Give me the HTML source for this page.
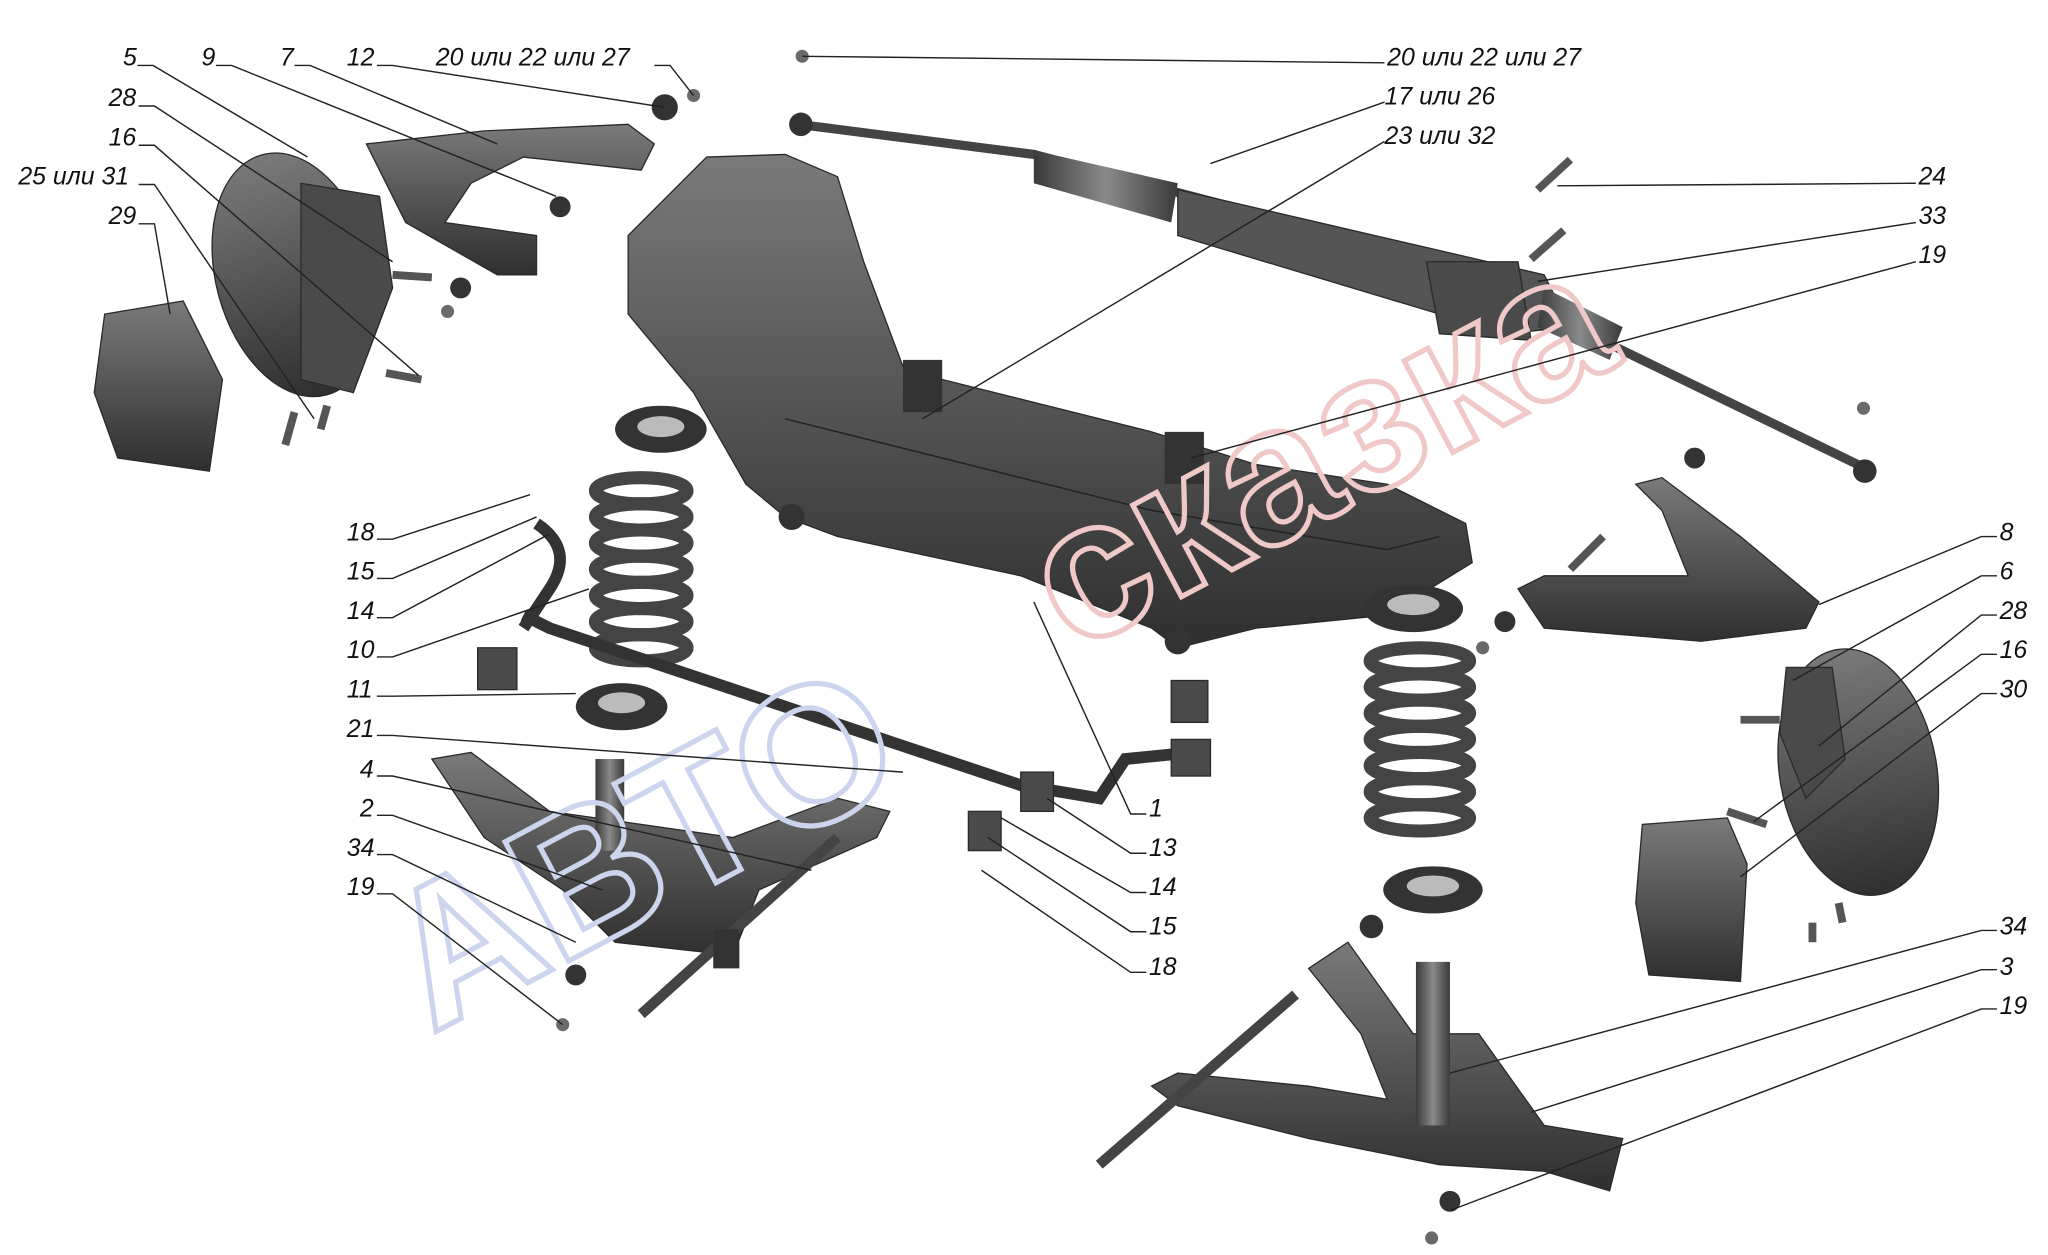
<!DOCTYPE html>
<html><head><meta charset="utf-8"><style>
html,body{margin:0;padding:0;background:#fff;}
svg{display:block;}
text{font-family:"Liberation Sans",sans-serif;font-style:italic;font-size:19px;fill:#111;}
.l{stroke:#222;stroke-width:1.1;fill:none;}
.p{fill:#4a4a4a;stroke:#2a2a2a;stroke-width:1;}
.d{fill:#333;}
.m{fill:#6a6a6a;}
.w{fill:none;stroke:#cfd6ee;stroke-width:6;}
</style></head><body>
<svg width="2048" height="1255" viewBox="0 0 1565 959" xmlns="http://www.w3.org/2000/svg">
<defs>
<linearGradient id="g" x1="0" y1="0" x2="0" y2="1"><stop offset="0" stop-color="#7a7a7a"/><stop offset="1" stop-color="#2f2f2f"/></linearGradient>
<linearGradient id="g2" x1="0" y1="0" x2="1" y2="0"><stop offset="0" stop-color="#3a3a3a"/><stop offset=".5" stop-color="#8a8a8a"/><stop offset="1" stop-color="#3a3a3a"/></linearGradient>
</defs>

<!-- frame -->
<path d="M480 180 L540 120 L600 118 L640 135 L660 200 L690 280 L720 290 L880 330 L960 355 L1060 370 L1120 400 L1125 430 L1060 470 L960 480 L900 495 L880 480 L780 440 L640 410 L600 395 L570 370 L530 300 L480 240 Z" fill="url(#g)" stroke="#2a2a2a"/>
<path d="M600 320 L880 390 L1060 420 L1100 410" class="l" stroke="#999"/>
<rect x="690" y="275" width="30" height="40" class="d"/>
<rect x="890" y="330" width="30" height="40" class="d"/>
<circle cx="605" cy="395" r="10" class="d"/><circle cx="900" cy="490" r="10" class="d"/>
<!-- steering rack -->
<path d="M610 95 L790 118 L1100 200 L1430 360" stroke="#444" stroke-width="7" fill="none"/>
<path d="M790 115 L900 140 L895 170 L790 140 Z" fill="url(#g2)"/>
<path d="M900 145 L1180 210 L1200 250 L1150 255 L900 180 Z" fill="#555" stroke="#2a2a2a"/>
<path d="M1090 200 L1160 200 L1170 260 L1100 255 Z" class="p"/>
<path d="M1180 220 L1240 250 L1230 275 L1175 250 Z" fill="url(#g2)"/>
<circle cx="612" cy="95" r="9" class="d"/><circle cx="1425" cy="360" r="9" class="d"/>
<circle cx="613" cy="43" r="5" class="m"/><circle cx="1424" cy="312" r="5" class="m"/>
<path d="M1175 145 L1200 122 M1170 198 L1195 176" stroke="#555" stroke-width="6"/>
<!-- left hub + caliper -->
<ellipse cx="225" cy="210" rx="60" ry="95" transform="rotate(-15 225 210)" fill="url(#g)" stroke="#2a2a2a"/>
<path d="M230 140 L290 150 L300 220 L270 300 L230 290 Z" class="p"/>
<path d="M80 240 L140 230 L170 290 L160 360 L90 350 L72 300 Z" fill="url(#g)" stroke="#2a2a2a"/>
<!-- left upper arm -->
<path d="M280 110 L370 100 L480 95 L500 110 L490 130 L400 120 L360 140 L340 170 L410 180 L410 210 L380 210 L310 170 Z" fill="url(#g)" stroke="#2a2a2a"/>
<circle cx="428" cy="158" r="8" class="d"/><circle cx="508" cy="82" r="10" class="d"/><circle cx="530" cy="73" r="5" class="m"/>
<circle cx="352" cy="220" r="8" class="d"/><circle cx="342" cy="238" r="5" class="m"/>
<path d="M300 210 L330 212 M295 285 L322 290 M218 340 L225 315 M245 328 L250 310" stroke="#555" stroke-width="6"/>
<!-- left spring -->
<ellipse cx="505" cy="328" rx="35" ry="18" class="d"/><ellipse cx="505" cy="326" rx="18" ry="8" fill="#bbb"/>
<g stroke="#444" stroke-width="10" fill="none">
<ellipse cx="490" cy="375" rx="35" ry="10"/><ellipse cx="490" cy="395" rx="35" ry="10"/><ellipse cx="490" cy="415" rx="35" ry="10"/><ellipse cx="490" cy="435" rx="35" ry="10"/><ellipse cx="490" cy="455" rx="35" ry="10"/><ellipse cx="490" cy="475" rx="35" ry="10"/><ellipse cx="490" cy="495" rx="35" ry="10"/></g>
<ellipse cx="475" cy="540" rx="35" ry="18" class="d"/><ellipse cx="475" cy="537" rx="18" ry="8" fill="#bbb"/>
<!-- stabilizer bar -->
<path d="M400 470 L420 480 L780 600 L840 610 L860 580 L910 575" stroke="#333" stroke-width="9" fill="none"/>
<path d="M410 400 Q440 420 420 450 L400 480" stroke="#333" stroke-width="9" fill="none"/>
<rect x="365" y="495" width="30" height="32" class="p"/><rect x="895" y="520" width="28" height="32" class="p"/>
<rect x="780" y="590" width="25" height="30" class="p"/><rect x="740" y="620" width="25" height="30" class="p"/>
<rect x="895" y="565" width="30" height="28" class="p"/>
<!-- left lower arm -->
<path d="M330 580 L360 575 L420 620 L560 640 L640 610 L680 620 L670 640 L580 680 L560 730 L470 720 L430 680 L370 640 Z" fill="url(#g)" stroke="#2a2a2a"/>
<rect x="455" y="580" width="22" height="70" fill="url(#g2)"/>
<path d="M490 775 L640 640" stroke="#444" stroke-width="8"/>
<rect x="545" y="710" width="20" height="30" class="d"/>
<circle cx="440" cy="745" r="8" class="d"/><circle cx="430" cy="783" r="5" class="m"/>
<!-- right spring -->
<ellipse cx="1080" cy="465" rx="38" ry="18" class="d"/><ellipse cx="1080" cy="462" rx="20" ry="8" fill="#bbb"/>
<g stroke="#444" stroke-width="10" fill="none">
<ellipse cx="1085" cy="505" rx="38" ry="10"/><ellipse cx="1085" cy="525" rx="38" ry="10"/><ellipse cx="1085" cy="545" rx="38" ry="10"/><ellipse cx="1085" cy="565" rx="38" ry="10"/><ellipse cx="1085" cy="585" rx="38" ry="10"/><ellipse cx="1085" cy="605" rx="38" ry="10"/><ellipse cx="1085" cy="625" rx="38" ry="10"/></g>
<ellipse cx="1095" cy="680" rx="38" ry="18" class="d"/><ellipse cx="1095" cy="677" rx="20" ry="8" fill="#bbb"/>
<!-- right upper arm -->
<path d="M1160 450 L1180 440 L1290 440 L1270 390 L1250 370 L1270 365 L1330 410 L1390 460 L1380 480 L1300 490 L1180 480 Z" fill="url(#g)" stroke="#2a2a2a"/>
<path d="M1200 435 L1225 410" stroke="#555" stroke-width="6"/>
<circle cx="1295" cy="350" r="8" class="d"/><circle cx="1150" cy="475" r="8" class="d"/><circle cx="1133" cy="495" r="5" class="m"/>
<!-- right hub + caliper -->
<ellipse cx="1420" cy="590" rx="60" ry="95" transform="rotate(-10 1420 590)" fill="url(#g)" stroke="#2a2a2a"/>
<path d="M1365 510 L1400 510 L1410 580 L1380 610 L1360 560 Z" class="p"/>
<path d="M1255 630 L1320 625 L1335 660 L1330 750 L1260 745 L1250 690 Z" fill="url(#g)" stroke="#2a2a2a"/>
<path d="M1330 550 L1360 550 M1320 620 L1350 630 M1385 705 L1385 720 M1405 690 L1408 705" stroke="#555" stroke-width="6"/>
<!-- right lower arm -->
<path d="M1000 740 L1030 720 L1080 790 L1130 790 L1180 860 L1240 870 L1230 910 L1180 895 L1100 890 L1000 870 L900 845 L880 830 L900 820 L1000 830 L1060 840 L1040 790 Z" fill="url(#g)" stroke="#2a2a2a"/>
<rect x="1082" y="735" width="26" height="125" fill="url(#g2)"/>
<path d="M840 890 L990 760" stroke="#444" stroke-width="8"/>
<circle cx="1048" cy="708" r="9" class="d"/><circle cx="1108" cy="918" r="8" class="d"/><circle cx="1094" cy="946" r="5" class="m"/>
<!-- watermark -->
<text x="330" y="790" transform="rotate(-28 330 790)" style="font-size:150px;font-style:normal;font-weight:bold;fill:none;stroke:#cdd5ee;stroke-width:4">АВТО</text>
<text x="820" y="500" transform="rotate(-28 820 500)" style="font-size:150px;font-style:normal;font-weight:bold;fill:none;stroke:#f0c8c8;stroke-width:4">сказка</text>

<!-- labels and leaders -->
<text x="94" y="50">5</text><path class="l" d="M105 50 H117 L235 120"/>
<text x="154" y="50">9</text><path class="l" d="M165 50 H177 L425 150"/>
<text x="214" y="50">7</text><path class="l" d="M225 50 H237 L380 110"/>
<text x="265" y="50">12</text><path class="l" d="M288 50 H300 L508 82"/>
<text x="333" y="50">20 или 22 или 27</text><path class="l" d="M500 50 H512 L530 73"/>
<text x="83" y="81">28</text><path class="l" d="M106 81 H118 L300 200"/>
<text x="83" y="111">16</text><path class="l" d="M106 111 H118 L320 287"/>
<text x="14" y="141">25 или 31</text><path class="l" d="M106 141 H118 L240 320"/>
<text x="83" y="171">29</text><path class="l" d="M106 171 H118 L130 240"/>

<text x="1060" y="50">20 или 22 или 27</text><path class="l" d="M1058 48 L613 43"/>
<text x="1058" y="80">17 или 26</text><path class="l" d="M1058 78 L925 125"/>
<text x="1058" y="110">23 или 32</text><path class="l" d="M1058 108 L705 320"/>
<text x="1466" y="141">24</text><path class="l" d="M1464 140 L1190 142"/>
<text x="1466" y="171">33</text><path class="l" d="M1464 170 L1175 215"/>
<text x="1466" y="201">19</text><path class="l" d="M1464 200 L910 350"/>

<text x="265" y="413">18</text><path class="l" d="M288 412 H300 L405 378"/>
<text x="265" y="443">15</text><path class="l" d="M288 442 H300 L410 395"/>
<text x="265" y="473">14</text><path class="l" d="M288 472 H300 L420 408"/>
<text x="265" y="503">10</text><path class="l" d="M288 502 H300 L450 450"/>
<text x="265" y="533">11</text><path class="l" d="M288 532 H300 L440 530"/>
<text x="265" y="563">21</text><path class="l" d="M288 562 H300 L690 590"/>
<text x="275" y="594">4</text><path class="l" d="M288 593 H300 L620 665"/>
<text x="275" y="624">2</text><path class="l" d="M288 623 H300 L460 680"/>
<text x="265" y="654">34</text><path class="l" d="M288 653 H300 L440 720"/>
<text x="265" y="684">19</text><path class="l" d="M288 683 H300 L430 783"/>

<text x="878" y="624">1</text><path class="l" d="M876 622 H864 L790 460"/>
<text x="878" y="654">13</text><path class="l" d="M876 652 H864 L800 610"/>
<text x="878" y="684">14</text><path class="l" d="M876 682 H864 L765 625"/>
<text x="878" y="714">15</text><path class="l" d="M876 712 H864 L755 640"/>
<text x="878" y="745">18</text><path class="l" d="M876 743 H864 L750 665"/>

<text x="1528" y="413">8</text><path class="l" d="M1526 410 H1514 L1390 462"/>
<text x="1528" y="443">6</text><path class="l" d="M1526 440 H1514 L1370 520"/>
<text x="1528" y="473">28</text><path class="l" d="M1526 470 H1514 L1390 570"/>
<text x="1528" y="503">16</text><path class="l" d="M1526 500 H1514 L1340 628"/>
<text x="1528" y="533">30</text><path class="l" d="M1526 530 H1514 L1330 670"/>
<text x="1528" y="714">34</text><path class="l" d="M1526 711 H1514 L1108 820"/>
<text x="1528" y="745">3</text><path class="l" d="M1526 741 H1514 L1170 850"/>
<text x="1528" y="775">19</text><path class="l" d="M1526 771 H1514 L1108 925"/>
</svg>
</body></html>
